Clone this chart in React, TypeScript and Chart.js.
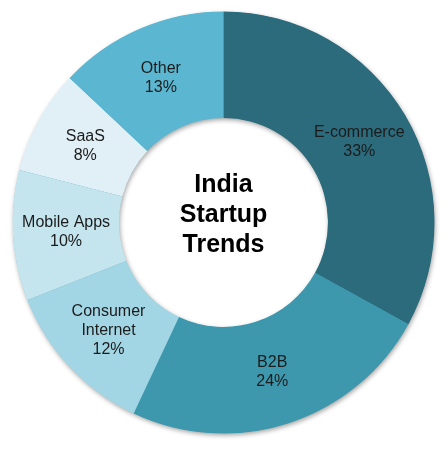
import { useEffect, useRef } from 'react';
import { Chart, ChartConfiguration, registerables } from 'chart.js';

Chart.register(...registerables);

// Sector shares, clockwise from 12 o'clock
const categories: string[][] = [
    ['E-commerce'],
    ['B2B'],
    ['Consumer', 'Internet'],
    ['Mobile Apps'],
    ['SaaS'],
    ['Other'],
];
const shares: number[] = [33, 24, 12, 10, 8, 13];
const sliceColors: string[] = ['#2b6b7c', '#3e98ad', '#a3d6e5', '#c4e4ee', '#e1f0f7', '#5bb7d1'];
const titleLines: string[] = ['India', 'Startup', 'Trends'];

const FONT = '"Liberation Sans", Arial, Helvetica, sans-serif';

// soft drop shadow under the ring
const ringShadow = {
    id: 'ringShadow',
    beforeDatasetsDraw(chart: any) {
        const arc = chart.getDatasetMeta(0).data[0];
        if (!arc) return;
        const { x, y, outerRadius, innerRadius } = arc.getProps(['x', 'y', 'outerRadius', 'innerRadius'], true);
        const ctx = chart.ctx;
        ctx.save();
        ctx.shadowColor = 'rgba(0,0,0,0.4)';
        ctx.shadowBlur = 5;
        ctx.shadowOffsetX = 1;
        ctx.shadowOffsetY = 2;
        ctx.fillStyle = '#3e98ad';
        ctx.beginPath();
        ctx.arc(x, y, outerRadius - 0.5, 0, Math.PI * 2);
        ctx.arc(x, y, innerRadius + 0.5, 0, Math.PI * 2, true);
        ctx.fill('evenodd');
        ctx.restore();
    },
};

// slice labels + centre title
const sliceLabels = {
    id: 'sliceLabels',
    afterDatasetsDraw(chart: any) {
        const ctx = chart.ctx;
        const meta = chart.getDatasetMeta(0);
        const values = chart.data.datasets[0].data as number[];
        ctx.save();
        ctx.textAlign = 'center';
        ctx.textBaseline = 'middle';
        ctx.fillStyle = '#1b1b1b';
        ctx.font = `16px ${FONT}`;
        meta.data.forEach((arc: any, i: number) => {
            const pos = arc.tooltipPosition(true);
            const label = chart.data.labels[i];
            const lines = [...(Array.isArray(label) ? label : [label]), `${values[i]}%`];
            const lh = 19;
            const top = pos.y - ((lines.length - 1) * lh) / 2;
            lines.forEach((t: string, k: number) => ctx.fillText(t, pos.x, top + k * lh));
        });

        const first = meta.data[0];
        if (first) {
            ctx.fillStyle = '#000';
            ctx.font = `bold 25px ${FONT}`;
            const lh = 30;
            const cy = first.y - 7;
            titleLines.forEach((t, k) => ctx.fillText(t, first.x, cy + (k - 1) * lh));
        }
        ctx.restore();
    },
};

export default function App() {
    const canvasRef = useRef<HTMLCanvasElement | null>(null);
    const chartRef = useRef<Chart | null>(null);

    useEffect(() => {
        if (!canvasRef.current) return;
        const config: ChartConfiguration = {
            type: 'doughnut',
            data: {
                labels: categories as any,
                datasets: [{
                    data: shares,
                    backgroundColor: sliceColors,
                    borderWidth: 0,
                    hoverOffset: 0,
                }],
            },
            options: {
                responsive: false,
                animation: false,
                cutout: '49.5%',
                layout: { padding: { left: 12.5, right: 12.5, top: 11.5, bottom: 15.5 } },
                plugins: {
                    legend: { display: false },
                    tooltip: { enabled: false },
                },
            },
            plugins: [ringShadow, sliceLabels],
        };

        chartRef.current = new Chart(canvasRef.current, config);

        return () => {
            if (chartRef.current) {
                chartRef.current.destroy();
                chartRef.current = null;
            }
        };
    }, []);

    return (
        <div style={{ position: 'fixed', left: 0, top: 0, width: 447, height: 449, background: '#fff' }}>
            <canvas ref={canvasRef} width={447} height={449} style={{ width: 447, height: 449 }}></canvas>
        </div>
    );
}
